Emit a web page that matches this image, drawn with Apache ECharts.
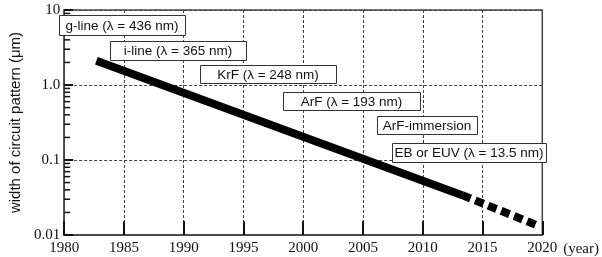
<!DOCTYPE html>
<html>
<head>
<meta charset="utf-8">
<script src="https://cdn.jsdelivr.net/npm/echarts@6/dist/echarts.min.js"></script>
<style>
  html, body { margin: 0; padding: 0; background: #fff; }
</style>
</head>
<body>
<div id="main" style="width: 602px;height:257px;"></div>
<script>
// 数据
var solidYears = [1982.7, 2013.3];
var solidValues = [2.1, 0.034];
var dashYears = [2013.3, 2019.5];
var dashValues = [0.034, 0.0136];

var yMajorLabels = { 10: '10', 1: '1.0', 0.1: '0.1', 0.01: '0.01' };
var yMinorTicks = [0.02, 0.03, 0.04, 0.05, 0.06, 0.07, 0.08, 0.09,
                   0.2, 0.3, 0.4, 0.5, 0.6, 0.7, 0.8, 0.9,
                   2, 3, 4, 5, 6, 7, 8, 9];

var boxLabels = ['g-line (λ = 436 nm)', 'i-line (λ = 365 nm)', 'KrF (λ = 248 nm)',
                 'ArF (λ = 193 nm)', 'ArF-immersion', 'EB or EUV (λ = 13.5 nm)'];
// 注释框位置 [x, y, w, h]
var boxPos = [[59, 15, 126, 20], [110, 41, 136, 19], [200, 65, 136, 18],
              [283, 92, 137, 18], [377, 116, 100, 18], [392, 143, 154, 19]];

var chart = echarts.init(document.getElementById('main'));

var serifFont = '"Liberation Serif", "DejaVu Serif", serif';
var sansFont = '"Liberation Sans", Arial, sans-serif';

var graphics = [];
boxLabels.forEach(function (txt, i) {
  var p = boxPos[i];
  graphics.push({
    type: 'rect',
    shape: { x: p[0] + 0.5, y: p[1] + 0.5, width: p[2], height: p[3] },
    style: { fill: '#fff', stroke: '#333', lineWidth: 1 },
    z: 100
  });
  graphics.push({
    type: 'text',
    x: p[0] + p[2] / 2,
    y: p[1] + p[3] / 2 + 1,
    style: {
      text: txt,
      fill: '#111',
      font: '13.5px ' + sansFont,
      align: 'center',
      verticalAlign: 'middle'
    },
    z: 101
  });
});

var option = {
  animation: false,
  grid: {
    left: 54, right: 52, top: 10, bottom: 22,
    show: true,
    borderColor: '#444',
    borderWidth: 1.5,
    backgroundColor: 'transparent'
  },
  xAxis: {
    type: 'value',
    min: 1980, max: 2020, interval: 5,
    name: '(year)',
    nameLocation: 'end',
    nameGap: 18,
    nameTextStyle: {
      color: '#111', fontFamily: serifFont, fontSize: 15,
      verticalAlign: 'top', padding: [7, 0, 0, 0]
    },
    axisLine: { lineStyle: { color: '#444', width: 1.5 } },
    axisTick: { inside: true, length: 14, lineStyle: { color: '#111', width: 2 } },
    axisLabel: {
      color: '#111', fontFamily: serifFont, fontSize: 15, margin: 6,
      formatter: function (v) { return String(v); }
    },
    splitLine: { show: true, lineStyle: { color: '#444', type: [3, 2], width: 1 } }
  },
  yAxis: {
    type: 'log',
    logBase: 10,
    min: 0.01, max: 10,
    name: 'width of circuit pattern (μm)',
    nameLocation: 'middle',
    nameGap: 34,
    nameTextStyle: { color: '#111', fontFamily: sansFont, fontSize: 15 },
    axisLine: { lineStyle: { color: '#444', width: 1.5 } },
    axisTick: { inside: true, length: 9, lineStyle: { color: '#111', width: 2 } },
    axisLabel: {
      color: '#111', fontFamily: serifFont, fontSize: 15, margin: 4,
      formatter: function (v) {
        var k = Math.round(Math.log10(v));
        return yMajorLabels[Math.pow(10, k)] || '';
      }
    },
    splitLine: { show: true, lineStyle: { color: '#444', type: [3, 2], width: 1 } }
  },
  series: [
    {
      type: 'line',
      data: solidYears.map(function (y, i) { return [y, solidValues[i]]; }),
      symbol: 'none',
      lineStyle: { color: '#000', width: 8, cap: 'butt' }
    },
    {
      type: 'line',
      data: dashYears.map(function (y, i) { return [y, dashValues[i]]; }),
      symbol: 'none',
      lineStyle: { color: '#000', width: 8, type: [9, 5], cap: 'butt' }
    },
    {
      // 对数轴次刻度
      type: 'custom',
      silent: true,
      clip: false,
      data: yMinorTicks.map(function (v) { return [1980, v]; }),
      renderItem: function (params, api) {
        var p = api.coord([api.value(0), api.value(1)]);
        return {
          type: 'line',
          shape: { x1: p[0], y1: p[1], x2: p[0] + 6, y2: p[1] },
          style: { stroke: '#111', lineWidth: 1.5 }
        };
      }
    }
  ],
  graphic: graphics
};

chart.setOption(option);
</script>
</body>
</html>
